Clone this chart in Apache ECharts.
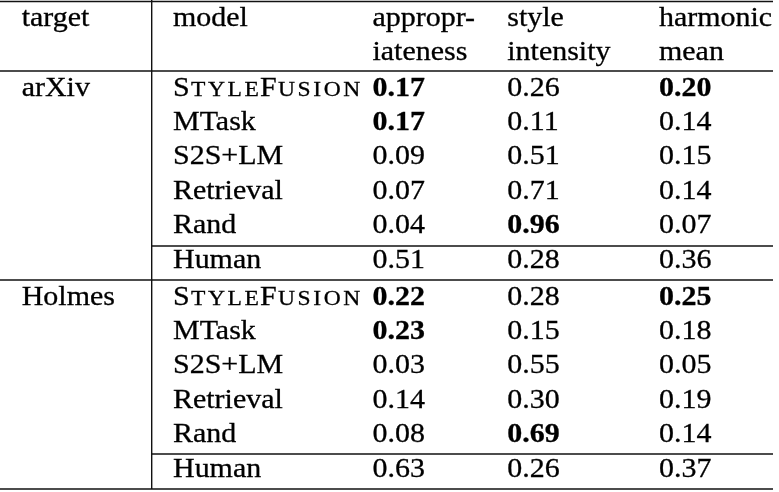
<!DOCTYPE html>
<html>
<head>
<meta charset="utf-8">
<script src="https://cdn.jsdelivr.net/npm/echarts@6/dist/echarts.min.js"></script>
<style>
html,body{margin:0;padding:0;background:#fff;}
#chart{width:779px;height:492px;}
</style>
</head>
<body>
<div id="chart"></div>
<script>
// ---------------- data ----------------
const columnHeaders = [['target'], ['model'], ['appropr-', 'iateness'], ['style', 'intensity'], ['harmonic', 'mean']];
const targets = ['arXiv', 'Holmes'];
const models = ['StyleFusion', 'MTask', 'S2S+LM', 'Retrieval', 'Rand', 'Human'];
const smallCapsModels = ['StyleFusion'];
const arxivAppropriateness = [0.17, 0.17, 0.09, 0.07, 0.04, 0.51];
const arxivStyleIntensity  = [0.26, 0.11, 0.51, 0.71, 0.96, 0.28];
const arxivHarmonicMean    = [0.20, 0.14, 0.15, 0.14, 0.07, 0.36];
const holmesAppropriateness = [0.22, 0.23, 0.03, 0.14, 0.08, 0.63];
const holmesStyleIntensity  = [0.28, 0.15, 0.55, 0.30, 0.69, 0.26];
const holmesHarmonicMean    = [0.25, 0.18, 0.05, 0.19, 0.14, 0.37];
// bold (best) model indices per metric column
const arxivBold  = [[0, 1], [4], [0]];
const holmesBold = [[0, 1], [4], [0]];

// ---------------- layout ----------------
const FONT_FAMILY = '"Liberation Serif", "Times New Roman", serif';
const FONT_SIZE = 28;
const SC_SIZE = 22;
const SCALE_X = 1.07;
const MID_TO_BASE = 8.0;            // canvas 'middle' -> alphabetic baseline offset
const COL_X = [21.7, 173, 372.5, 507.3, 659];
const HEADER_BASE = [26.5, 61];
const BODY_BASE = [
  [96.5, 130.8, 165.1, 199.4, 233.7, 268.7],
  [305.3, 339.6, 373.9, 408.2, 442.6, 477.6]
];
const RULE_RIGHT = 773;
const VRULE_X = 151.7;
const H_RULES = [
  [1.5, 0], [71, 0], [246, VRULE_X], [280, 0], [454, VRULE_X], [489, 0]
];
const V_RULES = [[VRULE_X, 0, 489]];

// ---------------- build cells ----------------
function smallCaps(name) {
  let s = '';
  for (const ch of name) {
    if (ch >= 'A' && ch <= 'Z') s += '{cap|' + ch + '}';
    else s += '{sc|' + ch.toUpperCase() + '}';
  }
  return s;
}
const cells = [];
columnHeaders.forEach((lines, ci) => {
  lines.forEach((t, li) => cells.push({ x: COL_X[ci], base: HEADER_BASE[li], text: t, bold: false }));
});
const groups = [
  { metrics: [arxivAppropriateness, arxivStyleIntensity, arxivHarmonicMean], bold: arxivBold },
  { metrics: [holmesAppropriateness, holmesStyleIntensity, holmesHarmonicMean], bold: holmesBold }
];
targets.forEach((tg, gi) => {
  const bases = BODY_BASE[gi];
  cells.push({ x: COL_X[0], base: bases[0], text: tg, bold: false });
  models.forEach((m, mi) => {
    const sc = smallCapsModels.indexOf(m) >= 0;
    cells.push({ x: COL_X[1], base: bases[mi], text: sc ? smallCaps(m) : m, bold: false, rich: sc });
    groups[gi].metrics.forEach((arr, k) => {
      cells.push({
        x: COL_X[2 + k], base: bases[mi], text: arr[mi].toFixed(2),
        bold: groups[gi].bold[k].indexOf(mi) >= 0
      });
    });
  });
});
const rules = [];
H_RULES.forEach(r => rules.push([r[1], r[0], RULE_RIGHT, r[0]]));
V_RULES.forEach(r => rules.push([r[0], r[1], r[0], r[2]]));

// ---------------- chart ----------------
const chart = echarts.init(document.getElementById('chart'), null, { renderer: 'canvas' });
chart.setOption({
  animation: false,
  backgroundColor: '#ffffff',
  grid: { left: 0, right: 0, top: 0, bottom: 0 },
  xAxis: { type: 'value', min: 0, max: 779, show: false },
  yAxis: { type: 'value', min: 0, max: 492, inverse: true, show: false },
  series: [
    {
      type: 'custom',
      name: 'rules',
      coordinateSystem: 'cartesian2d',
      encode: { x: [0, 2], y: [1, 3] },
      data: rules,
      silent: true,
      renderItem: function (params, api) {
        const a = api.coord([api.value(0), api.value(1)]);
        const b = api.coord([api.value(2), api.value(3)]);
        return {
          type: 'line',
          shape: { x1: a[0], y1: a[1], x2: b[0], y2: b[1] },
          style: { stroke: '#111', lineWidth: 1.4 }
        };
      }
    },
    {
      type: 'custom',
      name: 'cells',
      coordinateSystem: 'cartesian2d',
      encode: { x: 0, y: 1 },
      data: cells.map(c => [c.x, c.base - MID_TO_BASE]),
      silent: true,
      renderItem: function (params, api) {
        const c = cells[params.dataIndex];
        const p = api.coord([api.value(0), api.value(1)]);
        const style = {
          text: c.text,
          fill: '#000',
          stroke: '#000',
          lineWidth: 0.3,
          fontFamily: FONT_FAMILY,
          fontSize: FONT_SIZE,
          fontWeight: c.bold ? 'bold' : 'normal',
          align: 'left',
          verticalAlign: 'middle'
        };
        if (c.rich) {
          style.rich = {
            cap: { fontFamily: FONT_FAMILY, fontSize: FONT_SIZE, fill: '#000', stroke: '#000', lineWidth: 0.3, verticalAlign: 'bottom' },
            sc: { fontFamily: FONT_FAMILY, fontSize: SC_SIZE, fill: '#000', stroke: '#000', lineWidth: 0.3, verticalAlign: 'bottom', padding: [0, 1.2, 0.8, 1.2] }
          };
        }
        return { type: 'text', x: p[0], y: p[1], scaleX: SCALE_X, scaleY: 1, style: style };
      }
    }
  ]
});
</script>
</body>
</html>
